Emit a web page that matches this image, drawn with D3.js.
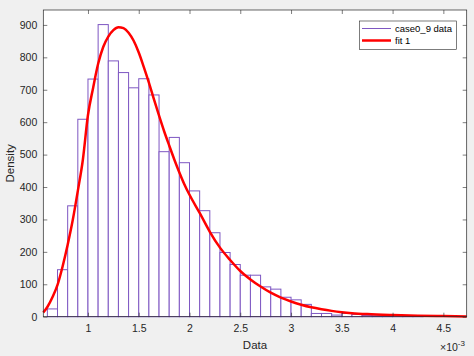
<!DOCTYPE html>
<html>
<head>
<meta charset="utf-8">
<script src="https://cdn.jsdelivr.net/npm/d3@7"></script>
<style>
  html, body { margin: 0; padding: 0; background: #f0f0f0; }
  svg { display: block; font-family: "Liberation Sans", Arial, sans-serif; }
</style>
</head>
<body>
<svg id="chart" width="474" height="356"></svg>
<script>
// ---- data (x in units of 1e-3) ----
const binStart = 0.6;
const binWidth = 0.1;
const binCounts = [24, 145, 342, 609, 733, 901, 789, 753, 706, 734, 684, 509, 553, 475, 388, 327, 259, 198, 161, 128, 128, 92, 85, 60, 52, 38, 10, 10, 5, 10, 7, 4, 3, 3, 6, 2, 1];
const fitX = [0.56, 0.60, 0.65, 0.70, 0.75, 0.80, 0.85, 0.90, 0.95, 1.00, 1.05, 1.10, 1.15, 1.20, 1.25, 1.30, 1.35, 1.40, 1.45, 1.50, 1.55, 1.60, 1.65, 1.70, 1.75, 1.80, 1.85, 1.90, 1.95, 2.00, 2.10, 2.20, 2.30, 2.40, 2.50, 2.60, 2.70, 2.80, 2.90, 3.00, 3.10, 3.20, 3.30, 3.40, 3.50, 3.60, 3.75, 4.00, 4.25, 4.50, 4.73];
const fitY = [13, 30, 60, 98, 155, 222, 298, 388, 485, 622, 705, 780, 832, 864, 884, 893, 890, 876, 851, 815, 770, 722, 670, 620, 572, 528, 485, 445, 408, 376, 320, 262, 213, 175, 141, 115, 93, 74, 59, 47, 37, 29, 23, 18, 14, 11, 8, 5, 3, 2, 1];
const xTicks = [1, 1.5, 2, 2.5, 3, 3.5, 4, 4.5];
const yTicks = [0, 100, 200, 300, 400, 500, 600, 700, 800, 900];
const xDomain = [0.56, 4.73];
const yDomain = [0, 946];
const legendLabels = ["case0_9 data", "fit 1"];

// ---- layout ----
const svg = d3.select("#chart");
const L = 43.3, R = 466.7, T = 10, B = 316.7;
const x = d3.scaleLinear().domain(xDomain).range([L, R]);
const y = d3.scaleLinear().domain(yDomain).range([B, T]);
const axisColor = "#262626";
const barColor = "#7e57c2";

svg.append("rect").attr("x", L).attr("y", T).attr("width", R - L).attr("height", B - T).attr("fill", "#ffffff");

const bins = binCounts.map((c, i) => ({ x0: binStart + i * binWidth, x1: binStart + (i + 1) * binWidth, v: c }));
svg.append("g").selectAll("rect").data(bins).join("rect")
  .attr("x", d => x(d.x0))
  .attr("y", d => y(d.v))
  .attr("width", d => x(d.x1) - x(d.x0))
  .attr("height", d => y(0) - y(d.v))
  .attr("fill", "#ffffff")
  .attr("stroke", barColor)
  .attr("stroke-width", 1);

const pts = fitX.map((v, i) => [v, fitY[i]]);
svg.append("path")
  .attr("d", d3.line().x(d => x(d[0])).y(d => y(d[1])).curve(d3.curveMonotoneX)(pts))
  .attr("fill", "none").attr("stroke", "#ff0000").attr("stroke-width", 2.5)
  .attr("stroke-linejoin", "round");

// axes (ticks inward, mirrored)
const tickLen = 4;
const xb = svg.append("g").attr("transform", `translate(0,${B})`)
  .call(d3.axisBottom(x).tickValues(xTicks).tickSize(-tickLen).tickPadding(8).tickFormat(d3.format("")));
const xt = svg.append("g").attr("transform", `translate(0,${T})`)
  .call(d3.axisTop(x).tickValues(xTicks).tickSize(-tickLen).tickFormat(""));
const yl = svg.append("g").attr("transform", `translate(${L},0)`)
  .call(d3.axisLeft(y).tickValues(yTicks).tickSize(-tickLen).tickPadding(6));
const yr = svg.append("g").attr("transform", `translate(${R},0)`)
  .call(d3.axisRight(y).tickValues(yTicks).tickSize(-tickLen).tickFormat(""));
[xb, xt, yl, yr].forEach(g => {
  g.select(".domain").remove();
  g.selectAll("line").attr("stroke", axisColor).attr("stroke-width", 0.6);
  g.selectAll("text").attr("fill", axisColor).attr("font-size", 10.5)
   .attr("font-family", "Liberation Sans, Arial, sans-serif");
});
svg.append("rect").attr("x", L).attr("y", T).attr("width", R - L).attr("height", B - T)
  .attr("fill", "none").attr("stroke", axisColor).attr("stroke-width", 0.7);

// labels
svg.append("text").attr("x", (L + R) / 2).attr("y", 349).attr("text-anchor", "middle")
  .attr("font-size", 11.5).attr("fill", axisColor).text("Data");
svg.append("text").attr("transform", `translate(14,${(T + B) / 2}) rotate(-90)`).attr("text-anchor", "middle")
  .attr("font-size", 11.5).attr("fill", axisColor).text("Density");
const ex = svg.append("text").attr("x", 440).attr("y", 351).attr("font-size", 10.5).attr("fill", axisColor);
ex.append("tspan").text("×10");
ex.append("tspan").attr("dy", -5).attr("font-size", 8).text("-3");

// legend
const lg = svg.append("g");
lg.append("rect").attr("x", 359.5).attr("y", 21).attr("width", 97).attr("height", 28.5)
  .attr("fill", "#ffffff").attr("stroke", axisColor).attr("stroke-width", 0.6);
lg.append("line").attr("x1", 362).attr("x2", 391).attr("y1", 28.5).attr("y2", 28.5)
  .attr("stroke", barColor).attr("stroke-width", 1);
lg.append("line").attr("x1", 362).attr("x2", 391).attr("y1", 40.5).attr("y2", 40.5)
  .attr("stroke", "#ff0000").attr("stroke-width", 2.5);
lg.selectAll("text.lab").data(legendLabels).join("text").attr("class", "lab")
  .attr("x", 395).attr("y", (d, i) => 32 + i * 12).attr("font-size", 9.5).attr("fill", "#000")
  .text(d => d);
</script>
</body>
</html>
